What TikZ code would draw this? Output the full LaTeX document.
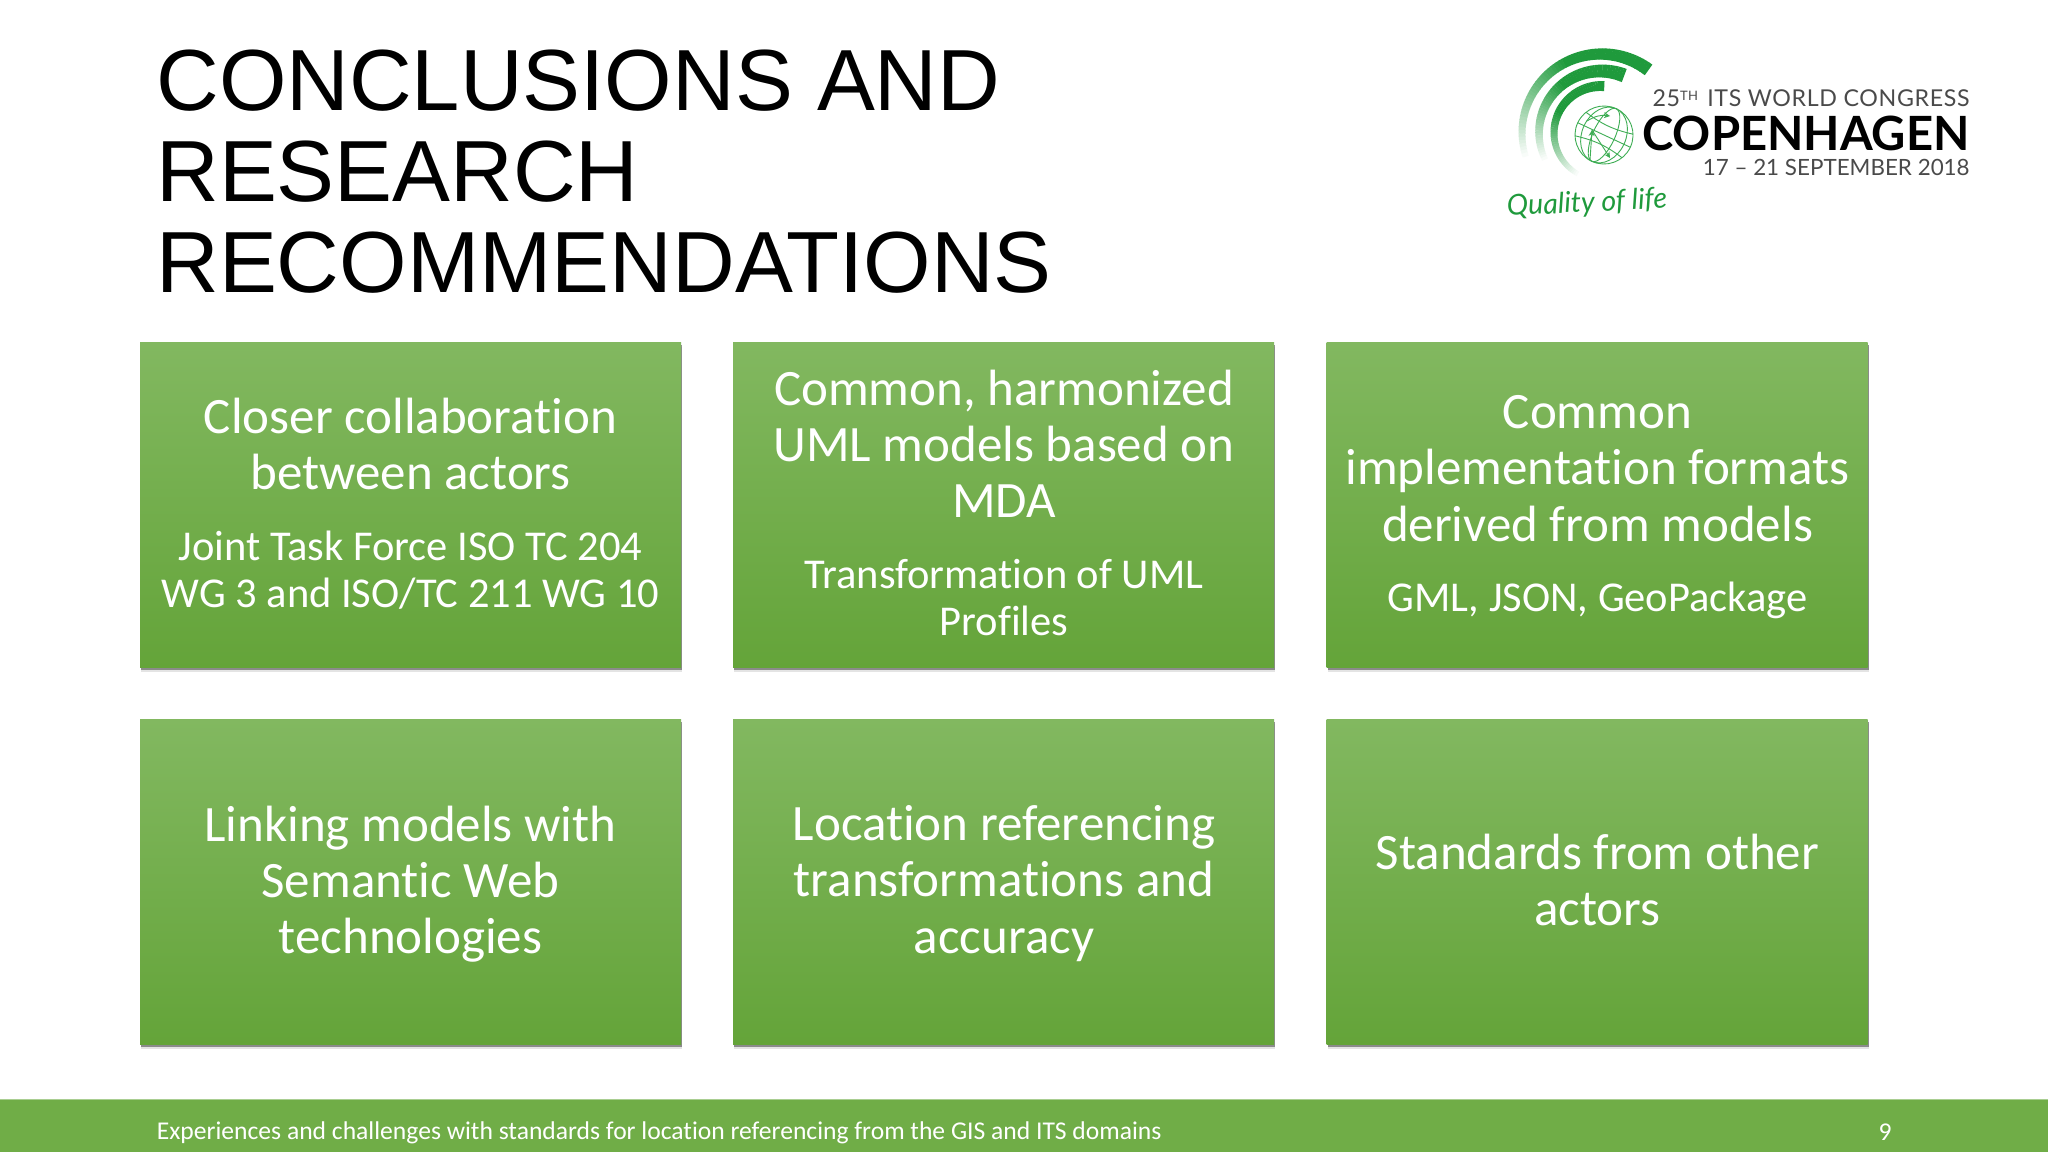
\documentclass[tikz,border=0pt]{standalone}
\usepackage{fontspec}
\usetikzlibrary{shadows,arrows.meta}
\setmainfont[Ligatures=CommonOff]{Carlito}
\newfontfamily\titlefont{Liberation Sans}
\newfontfamily\logofont{Lato}
\definecolor{boxtop}{HTML}{82B860}
\definecolor{boxmid}{HTML}{6EAD45}
\definecolor{boxbot}{HTML}{64A439}
\definecolor{barc}{HTML}{70AD47}
\definecolor{logog}{HTML}{1F9A3C}
\definecolor{logoglobe}{HTML}{3FAE55}
\definecolor{logotxt}{HTML}{4A4A4A}
\tikzset{
  x=0.5pt,y=-0.5pt,
  gbox/.style={rectangle,inner sep=0pt,minimum width=270.5pt,minimum height=162.5pt,
    top color=boxtop,middle color=boxmid,bottom color=boxbot,
    drop shadow={shadow xshift=0.5pt,shadow yshift=-2pt,fill=black!30,opacity=.35},
    drop shadow={shadow xshift=0.5pt,shadow yshift=-1.2pt,fill=black!60,opacity=.7}},
  maintext/.style={text=white,align=center,inner sep=0pt,
    font=\fontsize{25.5}{28.1}\selectfont},
  subtext/.style={text=white,align=center,inner sep=0pt,
    font=\fontsize{21.25}{23.5}\selectfont},
  titletext/.style={text=black,anchor=base west,inner sep=0pt,
    font=\titlefont\fontsize{43.4}{46}\selectfont},
  foot/.style={text=white,inner sep=0pt,font=\fontsize{12.8}{16}\selectfont},
  globeline/.style={draw=logoglobe,line width=0.45pt},
  logoline/.style={anchor=base east,inner sep=0pt},
}
\begin{document}
\begin{tikzpicture}
\useasboundingbox (0,0) rectangle (2048,1152);
\fill[white] (0,0) rectangle (2048,1152);

% title
\node[titletext] (title1) at (156,110) {CONCLUSIONS AND};
\node[titletext] (title2) at (156,201) {RESEARCH};
\node[titletext] (title3) at (156,292) {RECOMMENDATIONS};

% boxes
\node[gbox] (b1) at (410.5,505) {};
\node[gbox] (b2) at (1003.5,505) {};
\node[gbox] (b3) at (1597,505) {};
\node[gbox] (b4) at (410.5,882) {};
\node[gbox] (b5) at (1003.5,882) {};
\node[gbox] (b6) at (1597,882) {};

\node[maintext] (t1) at (410.5,444) {Closer collaboration\\between actors};
\node[subtext] (s1) at (410.5,570) {Joint Task Force ISO TC 204\\WG 3 and ISO/TC 211 WG 10};
\node[maintext] (t2) at (1004,443.5) {Common, harmonized\\UML models based on\\MDA};
\node[subtext] (s2) at (1004,598) {Transformation of UML\\Profiles};
\node[maintext] (t3) at (1597.5,468.5) {Common\\implementation formats\\derived from models};
\node[subtext] (s3) at (1597.5,600) {GML, JSON, GeoPackage};
\node[maintext] (t4) at (410.5,884) {Linking models with\\Semantic Web\\technologies};
\node[maintext] (t5) at (1004,883.5) {Location referencing\\transformations and\\accuracy};
\node[maintext] (t6) at (1597.5,880) {Standards from other\\actors};

% footer
\fill[barc] (0,1099) rectangle (2048,1152);
\draw[barc!60!white,line width=0.5pt] (0,1099) -- (2048,1099);
\node[foot,anchor=west] (ft) at (156.5,1132.5) {Experiences and challenges with standards for location referencing from the GIS and ITS domains};
\node[foot] (pg) at (1885,1132) {9};

% logo arcs (fade out toward the lower left)
\foreach \cx/\cy/\r/\wmax/\wmin/\aa/\ab in {1601/133/79/13/6/53/197, 1601/133/62/14/6/68/205, 1601/133/47/10/5/86/240}{
  \foreach \i in {0,...,59}{
    \pgfmathsetmacro\fa{\aa+(\ab-\aa)*\i/60}
    \pgfmathsetmacro\fb{\aa+(\ab-\aa)*(\i+1.15)/60}
    \pgfmathsetmacro\mixv{\i<26 ? 100 : 100-100*(\i-26)/34}
    \pgfmathsetmacro\lw{(\wmax+(\wmin-\wmax)*\i/60)*0.5}
    \draw[line width=\lw pt,color=logog!\mixv!white]
      ({\cx+\r*cos(\fa)},{\cy-\r*sin(\fa)}) arc[start angle=-\fa,end angle=-\fb,radius=\r];
  }
}

% globe
\begin{scope}[shift={(1604,135)},rotate=-25]
  \draw[globeline] (0,0) circle[radius=29];
  \draw[globeline] (0,0) ellipse[x radius=11,y radius=29];
  \draw[globeline] (0,0) ellipse[x radius=22,y radius=29];
  \draw[globeline] (-29,0) -- (29,0);
  \draw[globeline] (-26,-13) to[bend right=12] (26,-13);
  \draw[globeline] (-26,13) to[bend left=12] (26,13);
\end{scope}
\coordinate (ga) at (1587,121);
\coordinate (gb) at (1610,116);
\coordinate (gc) at (1592,130);
\coordinate (gd) at (1610,158);
\coordinate (gf) at (1590,160);
\draw[globeline,-{Stealth[length=3pt,width=3pt]}] (ga) to[bend left=20] (gb);
\draw[globeline,-{Stealth[length=3pt,width=3pt]}] (gc) -- (gd);
\draw[globeline,-{Stealth[length=3pt,width=3pt]}] (gf) -- (gc);

% logo text
\node[logoline,text=logotxt,font=\logofont\addfontfeature{LetterSpace=2.8}\fontsize{11.6}{14}\selectfont] (lg1) at (1970,106.5) {25\raisebox{0.5ex}{\fontsize{6.5}{8}\selectfont TH}\hspace{0.4em}ITS WORLD CONGRESS};
\node[logoline,text=black,font=\logofont\bfseries\fontsize{23.6}{28}\selectfont] (lg2) at (1970,150) {COPENHAGEN};
\node[logoline,text=logotxt,font=\logofont\fontsize{11.2}{14}\selectfont] (lg3) at (1970,175) {17 – 21 SEPTEMBER 2018};
\node[inner sep=0pt,anchor=base west,text=logog,rotate=3,font=\logofont\itshape\fontsize{14.3}{16}\selectfont] (lg4) at (1507,216) {Quality of life};
\end{tikzpicture}
\end{document}
